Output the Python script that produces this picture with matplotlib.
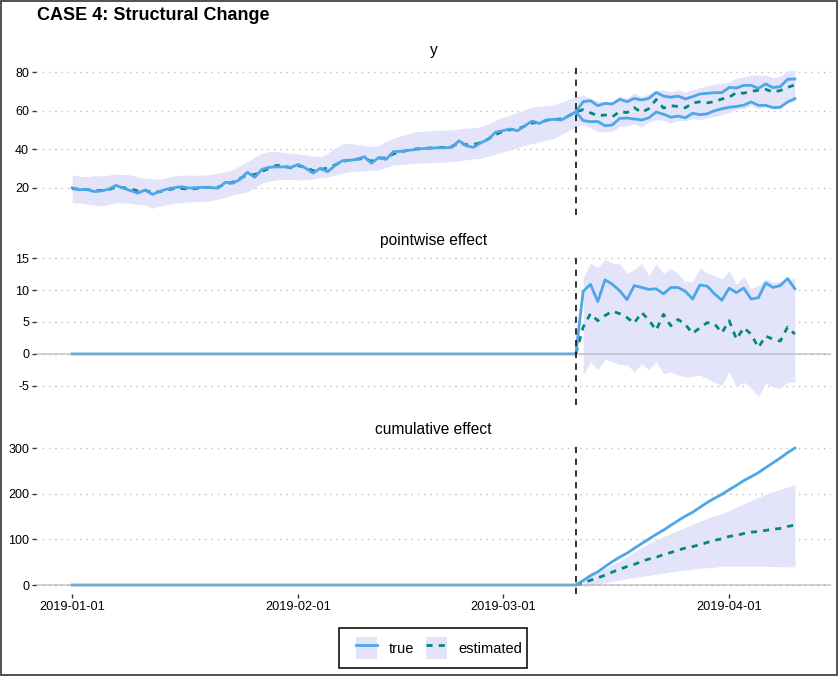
import numpy as np
import pandas as pd
import matplotlib
matplotlib.use("Agg")
import matplotlib.pyplot as plt
import matplotlib.dates as mdates
from matplotlib.lines import Line2D
from matplotlib.patches import Patch, Rectangle

plt.rcParams["font.family"] = ["Liberation Sans", "DejaVu Sans"]
plt.rcParams["axes.unicode_minus"] = False

BLUE = "#4da6e8"
TEAL = "#00897b"
BAND = "#e3e3fa"

# --- data -------------------------------------------------------------
dates = pd.date_range("2019-01-01", periods=100, freq="D")
n_pre = 70  # last pre-period day: 2019-03-11

y_obs = [19.9, 18.9, 19.2, 18.0, 18.3, 19.2, 21.2, 19.7, 18.5, 17.2,
         18.8, 16.5, 18.1, 19.3, 20.0, 20.5, 19.8, 20.0, 20.2, 20.0,
         19.8, 22.8, 22.3, 24.4, 28.0, 25.4, 29.5, 30.6, 30.8, 30.8,
         30.6, 32.1, 30.1, 27.6, 30.1, 28.3, 31.5, 34.0, 34.2, 34.7,
         36.1, 32.7, 35.7, 34.7, 38.7, 38.9, 39.4, 39.8, 40.3, 40.5,
         40.7, 40.7, 41.0, 44.4, 41.7, 41.0, 43.4, 45.1, 48.8, 49.6,
         50.5, 49.6, 52.1, 54.6, 53.4, 55.2, 55.5, 55.2, 57.2, 59.4,
         64.7, 65.2, 62.6, 63.8, 63.5, 65.9, 64.7, 66.4, 65.6, 66.4,
         69.5, 67.6, 67.0, 67.6, 66.1, 67.3, 68.7, 69.0, 69.4, 69.4,
         72.1, 71.8, 73.2, 73.2, 71.6, 73.9, 72.0, 72.5, 76.3, 76.5]

# fitted values and interval in the pre-period
y_est_pre = [19.5, 19.2, 19.0, 18.6, 18.5, 19.0, 20.3, 20.0, 19.4, 18.3,
             18.6, 17.5, 17.9, 18.8, 19.6, 19.6, 19.2, 19.6, 20.0, 20.2,
             20.3, 21.8, 22.8, 24.9, 26.6, 26.8, 28.5, 30.0, 31.6, 31.2,
             30.3, 31.4, 30.6, 28.8, 29.4, 30.2, 31.8, 33.6, 34.4, 34.8,
             35.2, 33.8, 35.4, 35.4, 37.6, 38.6, 39.4, 40.1, 40.4, 40.6,
             40.8, 41.0, 41.4, 43.2, 42.3, 42.4, 43.5, 45.3, 47.6, 49.2,
             50.1, 50.5, 52.0, 53.6, 53.9, 55.0, 55.4, 55.8, 57.3, 59.4]
y_hi_pre = [26.6, 26.0, 25.7, 26.3, 26.1, 26.5, 27.1, 26.8, 26.6, 25.6,
            24.9, 24.6, 24.3, 25.2, 26.1, 26.4, 26.6, 26.4, 26.6, 27.0,
            27.5, 28.2, 29.5, 31.4, 33.5, 35.8, 37.9, 38.8, 38.7, 38.3,
            37.9, 37.6, 37.0, 36.4, 36.1, 37.9, 40.5, 42.8, 43.0, 42.5,
            42.0, 41.5, 42.0, 44.0, 45.6, 47.0, 48.0, 49.0, 49.3, 49.6,
            49.8, 50.0, 50.0, 50.5, 51.0, 51.2, 51.7, 53.2, 55.0, 56.5,
            57.8, 59.3, 60.6, 62.0, 62.3, 62.6, 63.0, 64.4, 65.8, 67.3]
y_lo_pre = [12.2, 12.0, 11.5, 11.0, 10.5, 11.2, 12.2, 12.0, 11.9, 11.3,
            11.0, 9.3, 10.5, 11.2, 11.9, 12.3, 12.7, 12.7, 12.7, 13.2,
            14.0, 15.0, 16.2, 17.0, 17.9, 20.0, 22.3, 23.4, 24.0, 24.2,
            24.3, 24.1, 24.0, 24.5, 25.3, 25.7, 26.5, 27.5, 28.3, 28.6,
            28.8, 29.0, 29.2, 30.5, 31.8, 32.0, 32.3, 32.6, 32.8, 33.0,
            33.2, 33.4, 33.5, 34.0, 34.5, 35.0, 35.3, 36.3, 37.5, 38.5,
            39.6, 40.8, 41.9, 43.0, 43.8, 44.7, 45.6, 47.6, 49.6, 51.7]

# post-period pointwise effects (2019-03-12 .. 2019-04-10)
pt_true = [9.8, 10.9, 8.2, 11.6, 10.9, 9.9, 8.5, 10.7, 10.4, 10.1,
           10.2, 9.4, 10.4, 10.4, 9.8, 8.6, 10.8, 10.6, 9.4, 8.4,
           10.3, 9.6, 10.3, 8.6, 8.8, 11.1, 10.4, 10.7, 11.8, 10.2]
pt_est = [4.2, 6.3, 5.2, 6.0, 6.7, 6.3, 5.7, 4.8, 6.5, 5.3,
          3.7, 6.2, 4.4, 5.4, 4.6, 3.2, 4.1, 4.9, 4.7, 3.3,
          5.2, 2.3, 4.1, 3.1, 1.0, 2.8, 2.3, 2.0, 4.2, 3.1]
pt_hi = [11.9, 14.2, 13.5, 14.8, 14.2, 14.1, 12.6, 13.2, 14.2, 12.2,
         14.1, 12.6, 13.4, 12.6, 11.3, 11.4, 13.4, 12.7, 12.3, 11.7,
         13.0, 10.9, 12.2, 10.2, 10.7, 11.8, 11.2, 11.4, 11.6, 11.8]
pt_lo = [-3.3, -1.2, -2.5, -0.8, -1.2, -1.7, -1.7, -2.8, -1.5, -2.5,
         -1.2, -3.1, -2.8, -3.3, -3.6, -3.5, -3.3, -3.9, -4.5, -4.9,
         -2.8, -5.2, -4.4, -5.4, -6.7, -4.6, -5.2, -5.4, -4.4, -4.4]

# cumulative effect interval
cum_hi = [11, 20, 28, 36, 45, 53, 62, 72, 82, 91,
          99, 106, 113, 120, 127, 134, 140, 147, 152, 156,
          163, 171, 178, 186, 192, 199, 205, 210, 215, 220]
cum_lo = [-3.3, -1, 2, 5, 8, 11, 14, 17, 19, 21,
          24, 26, 29, 31, 33, 35, 37, 38, 39, 41,
          42, 42, 42, 42, 42, 41, 41, 40, 40, 40]

# --- assemble series ----------------------------------------------------
y_obs = np.array(y_obs)
post = dates[n_pre:]
pre_zero = np.zeros(n_pre)
y_post = y_obs[n_pre:]
y_cf_true = np.r_[y_obs[n_pre - 1], y_post - np.array(pt_true)]
y_est = np.r_[y_est_pre, y_post - np.array(pt_est)]
y_lo = np.r_[y_lo_pre, y_post - np.array(pt_hi)]
y_hi = np.r_[y_hi_pre, y_post - np.array(pt_lo)]
eff_true = np.r_[pre_zero, pt_true]
eff_est = np.r_[0.0, pt_est]
cum_true = np.r_[pre_zero, np.cumsum(pt_true)]
cum_est = np.r_[0.0, np.cumsum(pt_est)]
est_dates = dates[n_pre - 1:]

# --- figure ---------------------------------------------------------------
W, H = 839, 676
fig = plt.figure(figsize=(W / 100, H / 100), dpi=100)
fig.patches.append(Rectangle((0.001, 0.001), 0.997, 0.997, transform=fig.transFigure,
                             fill=False, edgecolor="#333333", lw=1.2))

left, width = 36 / W, 795 / W
tops = [63, 253, 442]
ph = 152
axes = [fig.add_axes([left, 1 - (t + ph) / H, width, ph / H]) for t in tops]
titles = ["y", "pointwise effect", "cumulative effect"]
ylims = [(5.8, 84.8), (-8.0, 15.8), (-19.7, 314)]
yticks = [[20, 40, 60, 80], [-5, 0, 5, 10, 15], [0, 100, 200, 300]]
x0 = dates[0] - pd.Timedelta(days=4.95)
x1 = dates[0] + pd.Timedelta(days=103.95)
t_int = dates[n_pre - 1]
dash = (0, (2.2, 2.2))

for ax, title, yl, yt in zip(axes, titles, ylims, yticks):
    ax.set_xlim(x0, x1)
    ax.set_ylim(*yl)
    ax.set_yticks(yt)
    ax.grid(axis="y", color="#bdbdbd", ls=(0, (1, 3.5)), lw=1.0)
    ax.set_axisbelow(True)
    for s in ax.spines.values():
        s.set_visible(False)
    ax.tick_params(axis="y", length=3, width=1, color="#333333", labelsize=9, pad=2)
    ax.tick_params(axis="x", length=3, width=1, color="#333333", labelsize=9.2, pad=2)
    ax.set_title(title, fontsize=11.2, pad=6)
    ax.axvline(t_int, color="#222222", lw=1.3, ls=(0, (3.5, 3)), zorder=5)

# panel 1: y
ax = axes[0]
ax.fill_between(dates, y_lo, y_hi, color=BAND, lw=0, zorder=1)
ax.plot(dates, y_est, color=TEAL, lw=2.0, ls=dash, zorder=2)
ax.plot(dates, y_obs, color=BLUE, lw=2.0, zorder=3, solid_joinstyle="round")
ax.plot(est_dates, y_cf_true, color=BLUE, lw=2.0, zorder=3, solid_joinstyle="round")

# panel 2: pointwise
ax = axes[1]
ax.fill_between(post, pt_lo, pt_hi, color=BAND, lw=0, zorder=1)
ax.plot(est_dates, eff_est, color=TEAL, lw=2.0, ls=dash, zorder=2)
ax.plot(dates, eff_true, color=BLUE, lw=2.0, zorder=3, solid_joinstyle="round")
ax.axhline(0, color="#a8a8a8", lw=1.2, alpha=0.6, zorder=4)

# panel 3: cumulative
ax = axes[2]
ax.fill_between(post, cum_lo, cum_hi, color=BAND, lw=0, zorder=1)
ax.plot(est_dates, cum_est, color=TEAL, lw=2.0, ls=dash, zorder=2)
ax.plot(dates, cum_true, color=BLUE, lw=2.0, zorder=3, solid_joinstyle="round")
ax.axhline(0, color="#a8a8a8", lw=1.2, alpha=0.6, zorder=4)

for ax in axes[:2]:
    ax.tick_params(axis="x", bottom=False, labelbottom=False)
axes[2].set_xticks(pd.to_datetime(["2019-01-01", "2019-02-01", "2019-03-01", "2019-04-01"]))
axes[2].xaxis.set_major_formatter(mdates.DateFormatter("%Y-%m-%d"))

fig.text(37 / W, 1 - 16 / H, "CASE 4: Structural Change", fontsize=13,
         fontweight="bold", ha="left", va="center")

# legend with a key background like the band, framed by a plain box
bg = Patch(facecolor=BAND, edgecolor="none")
h_true = (bg, Line2D([], [], color=BLUE, lw=2.0))
h_est = (bg, Line2D([], [], color=TEAL, lw=2.0, ls=dash))
fig.legend([h_true, h_est], ["true", "estimated"], loc="center",
           bbox_to_anchor=(439 / W, 1 - 648 / H), ncol=2, fontsize=10.5,
           frameon=False, handlelength=1.45, handleheight=2.0, columnspacing=0.8,
           handletextpad=0.8, borderpad=0.0)
fig.patches.append(Rectangle((339 / W, 1 - 668 / H), 188 / W, 40 / H,
                             transform=fig.transFigure, fill=False,
                             edgecolor="#111111", lw=1.2))

fig.savefig("out.png", dpi=100)
